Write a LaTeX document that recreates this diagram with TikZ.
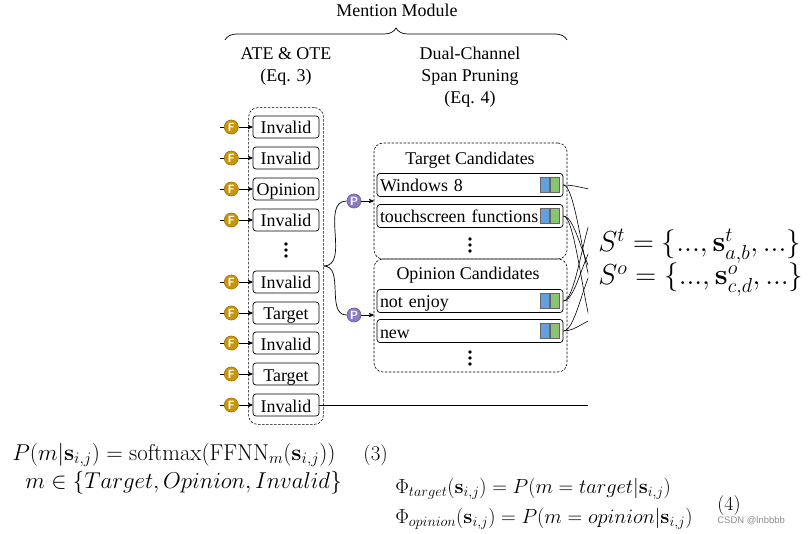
\documentclass[tikz,border=0pt]{standalone}
\usepackage{fix-cm}
\usepackage[no-math]{fontspec}
\setmainfont{Liberation Serif}
\newfontfamily\wmfont{Liberation Sans}
\usetikzlibrary{arrows,calc,fit,positioning,decorations.pathreplacing}
\definecolor{fgold}{RGB}{200,150,10}
\definecolor{ppurple}{RGB}{140,122,200}
\definecolor{sblue}{RGB}{100,160,220}
\definecolor{sgreen}{RGB}{140,195,115}

\begin{document}
\begin{tikzpicture}[x=1bp, y=-1bp, >=stealth', line width=0.7bp,
    font=\fontsize{18}{22}\selectfont,
    tag/.style={draw, rounded corners=3bp, minimum width=66bp, minimum height=22bp,
      inner sep=0pt, text height=14bp, text depth=0bp},
    cand/.style={draw, rounded corners=3bp, text width=180bp, minimum height=23bp,
      inner xsep=3bp, inner ysep=0pt, align=left, text height=14bp, text depth=0bp},
    group/.style={draw, dash pattern=on 2.5bp off 1.5bp, rounded corners=9bp, line width=0.6bp},
    badge/.style={circle, inner sep=0pt, minimum size=14bp, text=white,
      font=\sffamily\bfseries\fontsize{12}{12}\selectfont},
    ffn/.style={badge, fill=fgold, draw=fgold!80!black},
    prune/.style={badge, fill=ppurple, draw=ppurple!80!black},
    chip/.style={draw=black!60, minimum width=9bp, minimum height=15bp, inner sep=0pt, line width=0.5bp},
    eqn/.style={anchor=base west, inner sep=0pt}]
  \useasboundingbox (0,0) rectangle (808,534);

  % headings
  \node[anchor=base] (title) at (397,17) {Mention Module};
  \draw[decorate, decoration={brace, amplitude=12bp}] (225,40) -- (567,40);
  \node[align=center, anchor=north, inner sep=0pt] (ateh) at (286,47) {ATE \& OTE\\(Eq. 3)};
  \node[align=center, anchor=north, inner sep=0pt] (dcsp) at (470,47) {Dual-Channel\\Span Pruning\\(Eq. 4)};

  % span labels
  \foreach \y/\lbl [count=\i] in {127/Invalid, 158/Invalid, 189/Opinion, 220/Invalid,
      282/Invalid, 313/Target, 343/Invalid, 374/Target, 405/Invalid} {
    \node[tag] (l\i) at (286,\y) {\lbl};
    \node[ffn, left=14bp of l\i] (f\i) {F};
    \coordinate[left=4bp of f\i] (s\i);
    \draw (s\i) -- (f\i);
    \draw[->] (f\i) -- (l\i);
  }
  \node[group, fit=(l1)(l9), inner xsep=4bp, inner ysep=8bp] (ate) {};

  % candidates
  \node[group, minimum width=193bp, minimum height=116bp] (tbox) at (470.5,201) {};
  \node[group, minimum width=193bp, minimum height=113bp] (obox) at (470.5,315.5) {};
  \node[anchor=base] (tcap) at (470,165) {Target Candidates};
  \node[anchor=base] (ocap) at (468,280) {Opinion Candidates};
  \foreach \y/\nm/\txt in {185/w8/Windows 8, 216/ts/touchscreen functions,
      301/ne/not enjoy, 331/nw/new} {
    \node[cand] (\nm) at (470,\y) {\txt};
    \node[chip, fill=sgreen, left=4bp of \nm.east] (g\nm) {};
    \node[chip, fill=sblue, left=0pt of g\nm] (b\nm) {};
  }
  \foreach \px/\py in {286/250, 470/245, 470/358}
    \foreach \d in {-6,0,6}
      \fill (\px,\py+\d) circle (1.9bp);

  % pruning
  \node[prune] (p1) at (354,201) {P};
  \node[prune] (p2) at (354,315) {P};
  \draw (ate.east) to[out=0, in=180] (p1);
  \draw (ate.east) to[out=0, in=180] (p2);
  \draw[->] (p1) -- (p1 -| tbox.west);
  \draw[->] (p2) -- (p2 -| obox.west);

  % pairings, cut off at the right
  \begin{scope}
    \clip (0,0) rectangle (588,534);
    \foreach \c/\yy [count=\k] in {w8/190, w8/300, ts/280, ts/342,
        ne/205, ne/240, nw/262, nw/318} {
      \coordinate (e\k) at (600,\yy);
      \draw[line width=0.6bp] (\c.east) .. controls +(14,0) and +(-14,0) .. (e\k);
    }
    \coordinate (e0) at (600,405);
    \draw (l9.east) -- (e0);
  \end{scope}

  % equations
  \node[eqn, font=\fontsize{29}{34}\selectfont] (st) at (598,252) {$S^t = \{..., \mathbf{s}^t_{a,b}, ...\}$};
  \node[eqn, font=\fontsize{29}{34}\selectfont] (so) at (598,285) {$S^o = \{..., \mathbf{s}^o_{c,d}, ...\}$};
  \node[eqn, font=\fontsize{23}{27}\selectfont] (eqa) at (12,460)
    {$P(m|\mathbf{s}_{i,j}) = \mathrm{softmax}(\mathrm{FFNN}_m(\mathbf{s}_{i,j}))$};
  \node[eqn, font=\fontsize{23}{27}\selectfont] (eqb) at (25,488)
    {$m \in \{Target, Opinion, Invalid\}$};
  \node[eqn, font=\fontsize{21}{25}\selectfont] (n3) at (363,460) {$(3)$};
  \node[eqn, font=\fontsize{20.5}{24}\selectfont] (eqc) at (395,493)
    {$\Phi_{target}(\mathbf{s}_{i,j}) = P(m = target|\mathbf{s}_{i,j})$};
  \node[eqn, font=\fontsize{20.5}{24}\selectfont] (eqd) at (395,523)
    {$\Phi_{opinion}(\mathbf{s}_{i,j}) = P(m = opinion|\mathbf{s}_{i,j})$};
  \node[eqn, font=\fontsize{20}{24}\selectfont] (n4) at (717,510) {$(4)$};
  \node[eqn, font=\wmfont\fontsize{9.5}{11}\selectfont, text=black!45] (wm) at (717,523) {CSDN @lnbbbb};
\end{tikzpicture}
\end{document}
